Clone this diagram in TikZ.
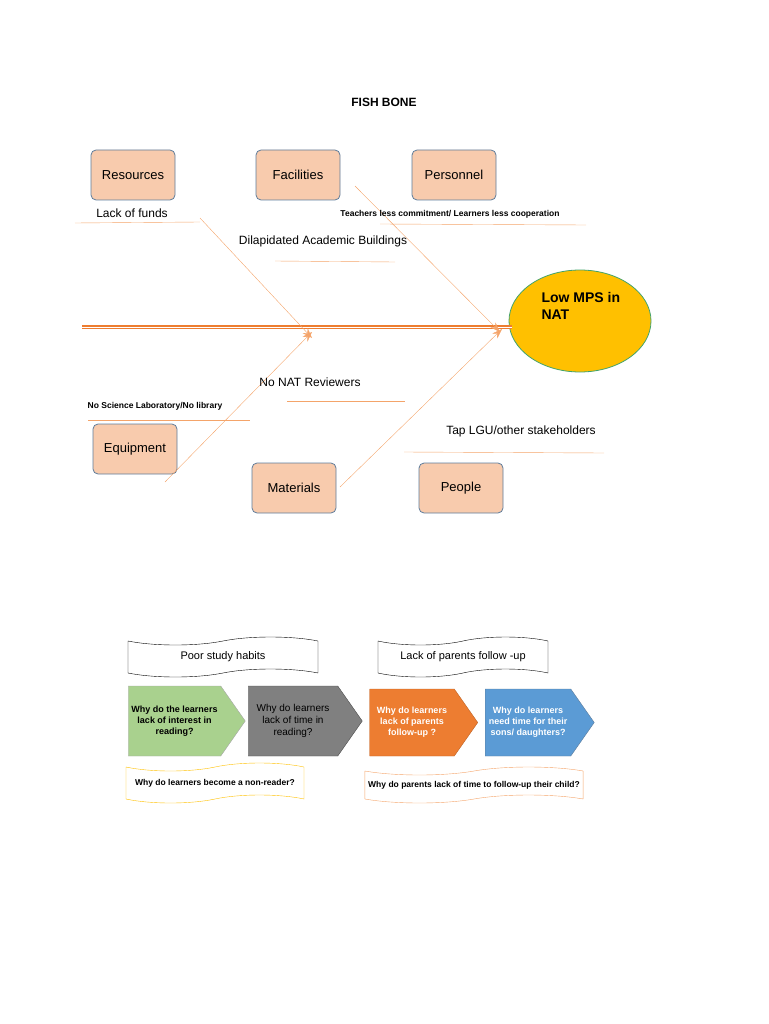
\documentclass[tikz,border=0pt]{standalone}
\usepackage{fontspec}
\setmainfont{Liberation Sans}
\usetikzlibrary{shapes.geometric,shapes.symbols,arrows.meta}
\definecolor{peach}{HTML}{F8CBAD}
\definecolor{boxline}{HTML}{5E7C9B}
\definecolor{bone}{HTML}{F4A46A}
\definecolor{spine}{HTML}{ED7D31}
\definecolor{gold}{HTML}{FFC000}
\begin{document}
\begin{tikzpicture}[
      x=1pt,y=-1pt,
      cat/.style={draw=boxline,fill=peach,rounded corners=5pt,thick,minimum width=84pt,minimum height=50pt,font=\fontsize{13}{15}\selectfont},
      lbl/.style={font=\fontsize{12}{14}\selectfont},
      small/.style={font=\fontsize{8.5}{10}\selectfont\bfseries},
      uline/.style={draw=bone,thin},
      bone/.style={draw=bone,thin,-{Stealth[length=10pt,width=7pt]}},
      tag/.style={tape,draw,thin,tape bend top=in and out,tape bend bottom=in and out,tape bend height=8pt,font=\fontsize{11}{13}\selectfont},
      why/.style={signal,signal to=east,signal pointer angle=110,minimum height=70pt,align=center,font=\fontsize{9}{11}\selectfont\bfseries,inner sep=1pt},
      ]
      \useasboundingbox (0,0) rectangle (768,1024);
      \node[font=\fontsize{12}{14}\selectfont\bfseries] (title) at (384,102) {FISH BONE};
      % categories
      \node[cat] (res) at (133,175) {Resources};
      \node[cat] (fac) at (298,175) {Facilities};
      \node[cat] (per) at (454,175) {Personnel};
      \node[cat] (equ) at (135,449) {Equipment};
      \node[cat] (mat) at (294,488) {Materials};
      \node[cat] (peo) at (461,488) {People};
      % head
      \node[ellipse,draw=boxline!70!green,fill=gold,thick,minimum width=142pt,minimum height=102pt] (head) at (580,321) {};
      \node[font=\fontsize{14}{17}\selectfont\bfseries,align=left,anchor=north west] (effect) at (538,289) {Low MPS in\\NAT};
      \coordinate (tail) at (82,327);
      \coordinate (mouth) at (512,327);
      \draw[spine,line width=3.5pt] (tail) -- (mouth);
      \draw[white,line width=0.8pt] (tail) -- (mouth);
      % bones
      \coordinate (b1) at (200,218);  \coordinate (e1) at (312,338);
      \coordinate (b2) at (355,186);  \coordinate (e2) at (500,332);
      \coordinate (b3) at (165,482);  \coordinate (e3) at (312,332);
      \coordinate (b4) at (340,487);  \coordinate (e4) at (502,329);
      \draw[bone] (b1) -- (e1);
      \draw[bone] (b2) -- (e2);
      \draw[bone] (b3) -- (e3);
      \draw[bone] (b4) -- (e4);
      % causes
      \node[lbl] (funds) at (132,213) {Lack of funds};
      \draw[uline] (75,223) -- (200,222);
      \node[small] (teach) at (450,214) {Teachers less commitment/ Learners less cooperation};
      \draw[uline] (380,224) -- (586,225);
      \node[lbl] (build) at (323,241) {Dilapidated Academic Buildings};
      \draw[uline] (275,261) -- (395,262);
      \node[lbl] (review) at (310,382) {No NAT Reviewers};
      \draw[uline] (287,401) -- (405,401);
      \node[small] (lab) at (155,406) {No Science Laboratory/No library};
      \draw[uline] (88,420) -- (250,420);
      \node[lbl] (lgu) at (521,431) {Tap LGU/other stakeholders};
      \draw[uline] (404,452) -- (604,453);
      % why chains
      \node[tag,minimum width=190pt,minimum height=40pt] (study) at (223,657) {Poor study habits};
      \node[tag,minimum width=170pt,minimum height=40pt] (parents) at (463,657) {Lack of parents follow -up};
      \node[why,fill={rgb,255:red,169;green,209;blue,142},draw=gray!70,minimum width=117pt] (w1) at (174.5,721) {Why do the learners\\lack of interest in\\reading?};
      \node[why,fill=gray,draw=black!70,minimum width=114pt,font=\fontsize{10}{12}\selectfont] (w2) at (293,721) {Why do learners\\lack of time in\\reading?};
      \node[why,fill=spine,draw=spine!80!black,text=white,minimum width=108pt,minimum height=67pt] (w3) at (412,722.5) {Why do learners\\lack of parents\\follow-up ?};
      \node[why,fill={rgb,255:red,91;green,155;blue,213},draw=boxline,text=white,minimum width=109pt,minimum height=67pt] (w4) at (528,722.5) {Why do learners\\need time for their\\sons/ daughters?};
      \node[tag,draw=gold,minimum width=178pt,minimum height=40pt,font=\fontsize{8.5}{10}\selectfont\bfseries] (w5) at (215,783) {Why do learners become a non-reader?};
      \node[tag,draw=bone,minimum width=212pt,minimum height=36pt,font=\fontsize{8.5}{10}\selectfont\bfseries] (w6) at (474,785) {Why do parents lack of time to follow-up their child?};
\end{tikzpicture}
\end{document}
